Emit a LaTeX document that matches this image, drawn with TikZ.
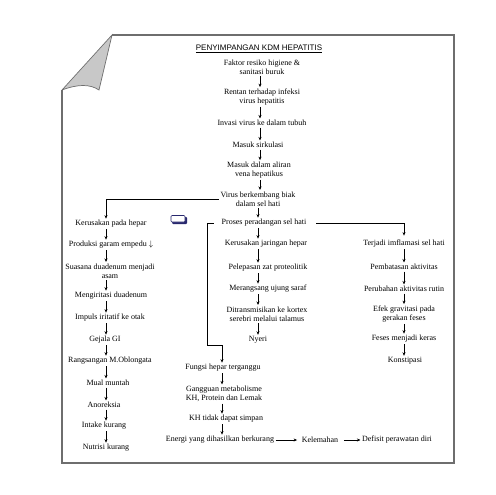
\documentclass[tikz,border=0pt]{standalone}
\usepackage{fontspec}
\setmainfont{Liberation Serif}
\newfontfamily\titlefont{Liberation Sans}
\usetikzlibrary{arrows.meta}
\definecolor{framegray}{RGB}{110,110,110}
\definecolor{foldgray}{RGB}{200,200,200}
\definecolor{iconblue}{RGB}{40,40,110}
\begin{document}
\begin{tikzpicture}[x=1pt, y=-1pt,
    box/.style={align=center, inner sep=1.5pt, font=\fontsize{8}{9}\selectfont},
    arr/.style={-{Stealth[length=3.5pt,width=3pt]}, line width=0.6pt}]
\useasboundingbox (0,0) rectangle (495,495);
% Draw the page with its folded corner
\draw[framegray, line width=1.1pt] (112,35) -- (454,35) -- (454,463) -- (62,463) -- (62,90);
\draw[framegray, fill=foldgray, line width=0.7pt] (62,90) -- (112,35) -- (99,90) .. controls (90,84) and (78,84) .. (62,90);
% small icon
\fill[iconblue, rounded corners=1pt] (172,217) rectangle (187,224);
\filldraw[fill=white, draw=iconblue, line width=0.6pt, rounded corners=1pt] (171,215.5) rectangle (185,222);

% Title
\node at (259,49) (title) {\titlefont\fontsize{8}{9}\selectfont\underline{PENYIMPANGAN KDM HEPATITIS}};

% columns for the arrows
\coordinate (colA) at (260,0);
\coordinate (colL) at (106,0);
\coordinate (colM) at (258,0);
\coordinate (colR) at (404,0);
\coordinate (colB) at (222,0);
\coordinate (brk) at (207,345);

% Main column
\node at (262,67) [box] (fak) {Faktor resiko higiene \&\\ sanitasi buruk};
\node at (262,97) [box] (ren) {Rentan terhadap infeksi\\ virus hepatitis};
\node at (262,123) [box] (inv) {Invasi virus ke dalam tubuh};
\node at (258,145) [box] (msk) {Masuk sirkulasi};
\node at (259,170) [box] (mva) {Masuk dalam aliran\\ vena hepatikus};
\node at (258,199) [box] (vir) {Virus berkembang biak\\ dalam sel hati};
\draw[arr] (fak.south -| colA) -- (ren.north -| colA);
\draw[arr] (ren.south -| colA) -- (inv.north -| colA);
\draw[arr] (inv.south -| colA) -- (msk.north -| colA);
\draw[arr] (msk.south -| colA) -- (mva.north -| colA);
\draw[arr] (mva.south -| colA) -- (vir.north -| colA);

% Left column
\node at (111,224) [box] (kp) {Kerusakan pada hepar};
\node at (111,245) [box] (pge) {Produksi garam empedu $\downarrow$};
\node at (110,271) [box] (sda) {Suasana duadenum menjadi\\ asam};
\node at (111,296) [box] (mdu) {Mengiritasi duadenum};
\node at (110,318) [box] (iik) {Impuls iritatif ke otak};
\node at (105,340) [box] (ggi) {Gejala GI};
\node at (110,361) [box] (rmo) {Rangsangan M.Oblongata};
\node at (108,383) [box] (mmu) {Mual muntah};
\node at (104,405) [box] (ano) {Anoreksia};
\node at (104,426) [box] (ika) {Intake kurang};
\node at (106,448) [box] (nku) {Nutrisi kurang};
\draw[arr] (vir.west) -| (kp.north -| colL);
\draw[arr] (kp.south -| colL) -- (pge.north -| colL);
\draw[arr] (pge.south -| colL) -- (sda.north -| colL);
\draw[arr] (sda.south -| colL) -- (mdu.north -| colL);
\draw[arr] (mdu.south -| colL) -- (iik.north -| colL);
\draw[arr] (iik.south -| colL) -- (ggi.north -| colL);
\draw[arr] (ggi.south -| colL) -- (rmo.north -| colL);
\draw[arr] (rmo.south -| colL) -- (mmu.north -| colL);
\draw[arr] (mmu.south -| colL) -- (ano.north -| colL);
\draw[arr] (ano.south -| colL) -- (ika.north -| colL);
\draw[arr] (ika.south -| colL) -- (nku.north -| colL);

% Middle column
\node at (264,223) [box] (pr) {Proses peradangan sel hati};
\node at (266,244) [box] (kjh) {Kerusakan jaringan hepar};
\node at (268,268) [box] (pzp) {Pelepasan zat proteolitik};
\node at (268,289) [box] (mus) {Merangsang ujung saraf};
\node at (267,314) [box] (dkk) {Ditransmisikan ke kortex\\ serebri melalui talamus};
\node at (258,340) [box] (nye) {Nyeri};
\draw[arr] (vir.south -| colM) -- (pr.north -| colM);
\draw[arr] (pr.south -| colM) -- (kjh.north -| colM);
\draw[arr] (kjh.south -| colM) -- (pzp.north -| colM);
\draw[arr] (pzp.south -| colM) -- (mus.north -| colM);
\draw[arr] (mus.south -| colM) -- (dkk.north -| colM);
\draw[arr] (dkk.south -| colM) -- (nye.north -| colM);

% Right column
\node at (404,244) [box] (ti) {Terjadi imflamasi sel hati};
\node at (404,267) [box] (pa) {Pembatasan aktivitas};
\node at (404,289) [box] (par) {Perubahan aktivitas rutin};
\node at (404,314) [box] (egp) {Efek gravitasi pada\\ gerakan feses};
\node at (404,339) [box] (fmk) {Feses menjadi keras};
\node at (405,361) [box] (kon) {Konstipasi};
\draw[arr, shorten <=8pt] (pr.east) -| ([yshift=3pt]ti.north);
\draw[arr] (ti.south -| colR) -- (pa.north -| colR);
\draw[arr] (pa.south -| colR) -- (par.north -| colR);
\draw[arr] (par.south -| colR) -- (egp.north -| colR);
\draw[arr] (egp.south -| colR) -- (fmk.north -| colR);
\draw[arr] (fmk.south -| colR) -- (kon.north -| colR);

% Bottom branch
\node at (223,368) [box] (fh) {Fungsi hepar terganggu};
\node at (224,394) [box] (gm) {Gangguan metabolisme\\ KH, Protein dan Lemak};
\node at (226,419) [box] (kh) {KH tidak dapat simpan};
\node at (220,440) [box] (en) {Energi yang dihasilkan berkurang};
\node at (320,440) [box] (kel) {Kelemahan};
\node at (397,440) [box] (def) {Defisit perawatan diri};
\draw[arr, shorten <=6pt] (pr.west) -| (brk) -| (fh.north -| colB);
\draw[arr] (fh.south -| colB) -- (gm.north -| colB);
\draw[arr] (gm.south -| colB) -- (kh.north -| colB);
\draw[arr] (kh.south -| colB) -- (en.north -| colB);
\draw[arr] (en.east) -- ([xshift=-3pt]kel.west);
\draw[arr, shorten <=4pt] (kel.east) -- (def.west);
\end{tikzpicture}
\end{document}
